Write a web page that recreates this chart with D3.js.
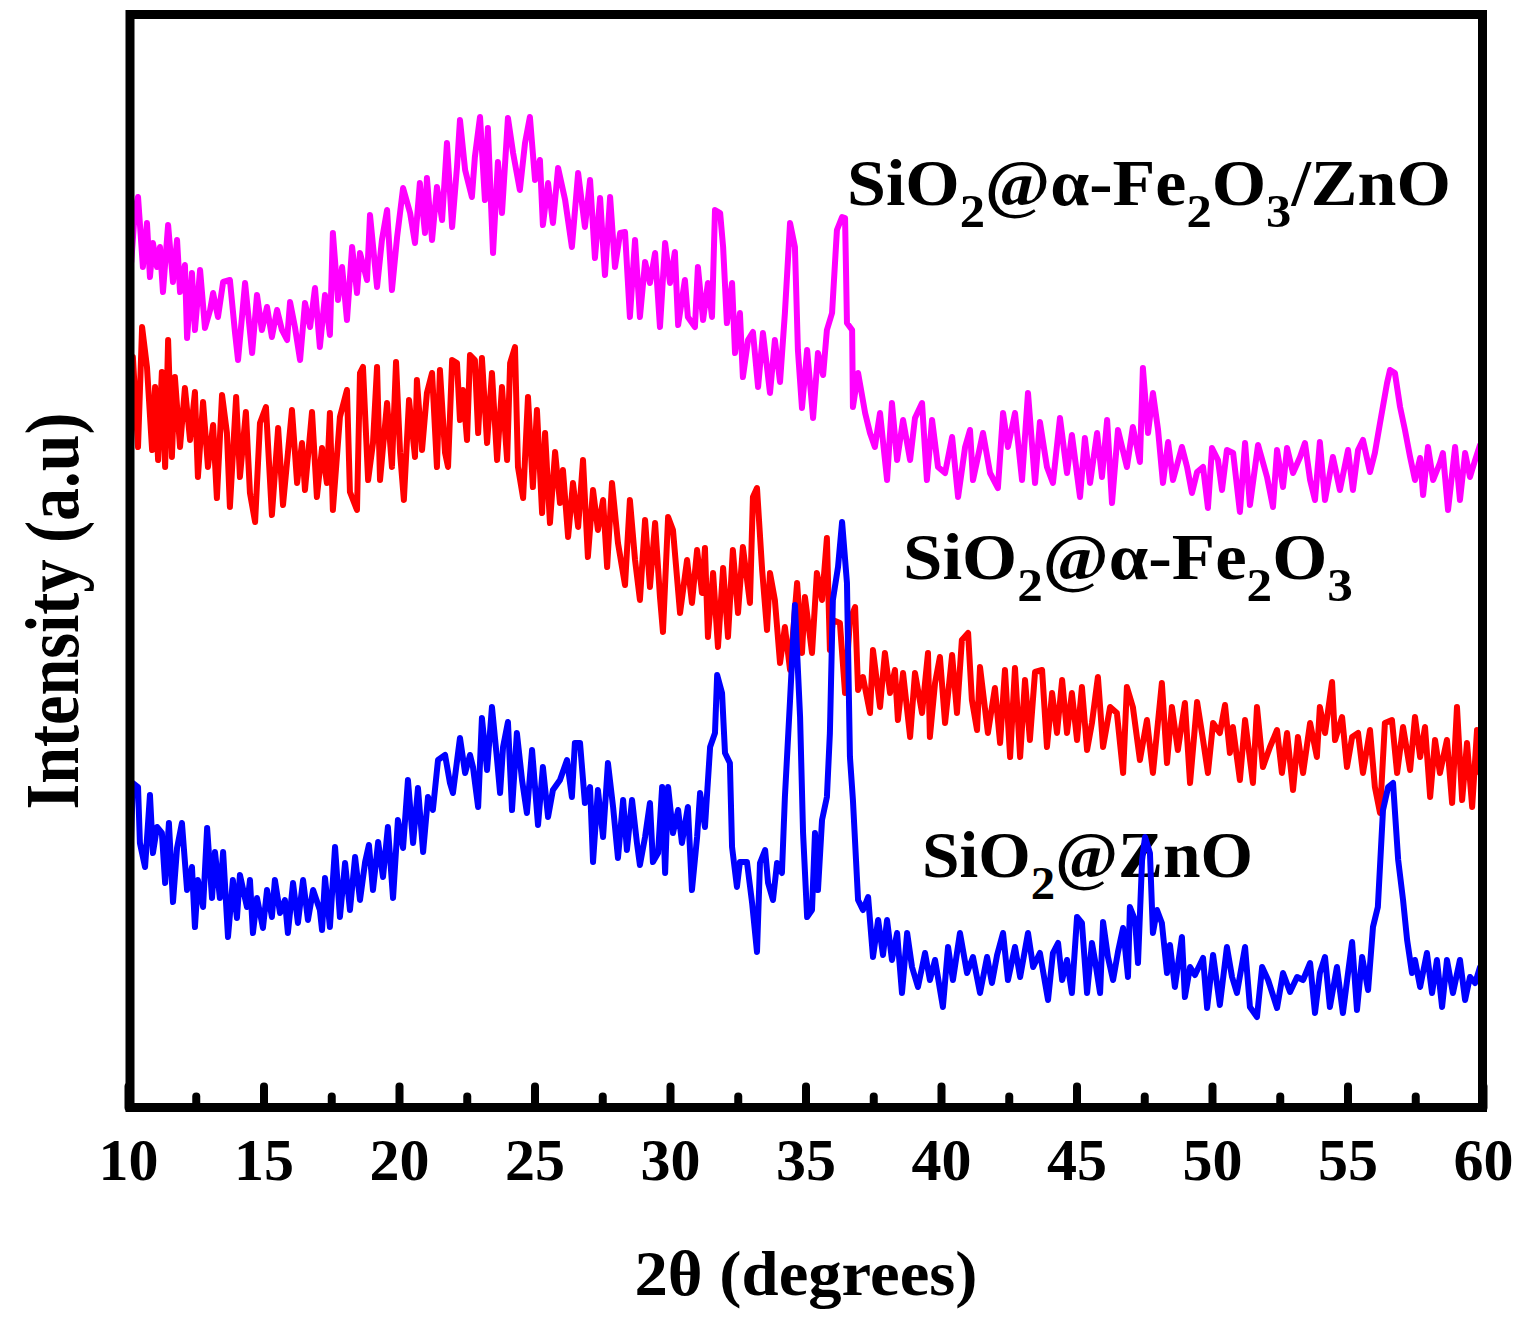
<!DOCTYPE html>
<html>
<head>
<meta charset="utf-8">
<script src="https://cdn.jsdelivr.net/npm/d3@7"></script>
<style>
  body { margin: 0; background: #fff; }
  svg { display: block; }
</style>
</head>
<body>
<svg id="chart" width="1524" height="1326"></svg>
<script>
// x: 2-theta (degrees), y: intensity (a.u., arbitrary offsets per pattern)
const majorTicks = [10, 15, 20, 25, 30, 35, 40, 45, 50, 55, 60];
const minorTicks = [12.5, 17.5, 22.5, 27.5, 32.5, 37.5, 42.5, 47.5, 52.5, 57.5];

const seriesNames = ["SiO2@α-Fe2O3/ZnO", "SiO2@α-Fe2O3", "SiO2@ZnO"];
const seriesColors = ["#ff00ff", "#ff0000", "#0000ff"];

const fe2o3ZnO = [[10.05,870],[10.12,845],[10.25,895],[10.37,910],[10.55,840],[10.70,884],[10.81,830],[10.92,864],[11.07,840],[11.18,860],[11.29,815],[11.48,882],[11.66,825],[11.81,867],[11.92,815],[12.10,842],[12.18,769],[12.36,834],[12.47,777],[12.66,837],[12.84,779],[13.03,797],[13.14,814],[13.32,790],[13.51,825],[13.76,827],[13.95,774],[14.06,747],[14.32,824],[14.58,754],[14.76,812],[14.94,777],[15.13,800],[15.31,770],[15.50,797],[15.68,777],[15.87,767],[15.98,805],[16.16,780],[16.35,747],[16.53,804],[16.72,780],[16.90,819],[17.08,760],[17.27,812],[17.45,772],[17.56,874],[17.75,807],[17.90,840],[18.08,787],[18.27,860],[18.45,814],[18.56,854],[18.82,827],[18.93,892],[19.19,820],[19.37,867],[19.56,897],[19.74,817],[19.93,870],[20.15,919],[20.41,894],[20.59,864],[20.77,924],[20.96,874],[21.03,929],[21.22,867],[21.40,920],[21.59,887],[21.77,964],[21.96,880],[22.14,940],[22.25,987],[22.44,937],[22.69,910],[22.80,950],[22.99,990],[23.17,907],[23.28,979],[23.47,854],[23.65,945],[23.80,894],[24.02,989],[24.21,954],[24.46,917],[24.65,964],[24.83,990],[25.02,927],[25.20,947],[25.31,882],[25.50,924],[25.68,884],[25.87,939],[26.13,907],[26.38,860],[26.61,934],[26.86,880],[27.05,927],[27.23,849],[27.42,909],[27.60,832],[27.79,910],[27.97,840],[28.16,874],[28.34,875],[28.52,790],[28.71,867],[28.89,790],[29.08,845],[29.26,824],[29.45,854],[29.63,780],[29.82,864],[30.00,824],[30.18,855],[30.30,782],[30.55,827],[30.66,790],[30.92,780],[31.03,840],[31.22,787],[31.40,824],[31.55,790],[31.66,897],[31.85,894],[31.96,860],[32.10,784],[32.29,824],[32.40,754],[32.58,794],[32.69,730],[32.88,767],[33.06,775],[33.25,720],[33.43,774],[33.69,714],[33.87,767],[34.06,725],[34.24,794],[34.43,884],[34.61,860],[34.72,757],[34.87,699],[35.06,757],[35.28,689],[35.46,754],[35.65,732],[35.79,777],[35.98,794],[36.16,877],[36.35,890],[36.46,889],[36.53,784],[36.72,777],[36.75,700],[36.94,734],[37.20,694],[37.38,674],[37.56,660],[37.75,694],[38.01,627],[38.19,704],[38.38,647],[38.60,687],[38.86,647],[39.04,689],[39.30,704],[39.48,627],[39.67,687],[39.89,640],[40.15,634],[40.41,670],[40.63,610],[40.89,660],[41.07,677],[41.18,627],[41.55,674],[41.81,634],[42.10,619],[42.29,694],[42.47,660],[42.73,694],[42.99,627],[43.21,714],[43.47,624],[43.65,685],[43.91,640],[44.13,624],[44.39,689],[44.65,634],[44.83,672],[45.13,610],[45.31,669],[45.50,624],[45.76,674],[45.94,630],[46.13,687],[46.31,604],[46.53,677],[46.86,640],[47.08,680],[47.34,645],[47.45,739],[47.64,674],[47.82,714],[48.01,677],[48.19,624],[48.38,665],[48.56,627],[48.89,660],[49.08,640],[49.26,614],[49.45,635],[49.67,640],[49.85,599],[50.00,659],[50.22,647],[50.37,617],[50.55,657],[50.78,654],[51.03,595],[51.22,664],[51.40,602],[51.70,662],[52.03,630],[52.25,600],[52.40,657],[52.62,620],[52.77,659],[52.99,634],[53.25,650],[53.43,664],[53.62,627],[53.80,607],[53.98,665],[54.17,607],[54.46,650],[54.72,617],[55.02,657],[55.20,617],[55.39,657],[55.57,667],[55.83,635],[56.01,654],[56.20,684],[56.46,724],[56.57,737],[56.75,734],[56.94,700],[57.12,677],[57.31,650],[57.49,627],[57.68,649],[57.79,612],[57.97,660],[58.16,627],[58.41,644],[58.52,654],[58.71,597],[58.97,660],[59.15,607],[59.34,654],[59.52,630],[59.71,647],[59.89,662]];

const fe2o3 = [[10.05,714],[10.10,664],[10.18,750],[10.37,660],[10.52,780],[10.70,740],[10.89,657],[11.00,720],[11.11,647],[11.25,735],[11.37,640],[11.48,767],[11.62,650],[11.73,730],[11.92,660],[12.10,719],[12.29,667],[12.47,715],[12.58,630],[12.77,705],[12.95,640],[13.14,682],[13.28,609],[13.47,712],[13.65,674],[13.76,600],[13.99,710],[14.13,630],[14.35,695],[14.50,614],[14.69,585],[14.87,684],[15.09,700],[15.31,592],[15.54,679],[15.72,602],[16.05,697],[16.24,624],[16.42,664],[16.53,617],[16.79,695],[16.97,610],[17.16,659],[17.34,624],[17.45,694],[17.56,597],[17.82,690],[18.08,717],[18.19,615],[18.45,597],[18.56,734],[18.67,740],[18.86,627],[19.04,664],[19.19,740],[19.30,627],[19.56,704],[19.74,640],[19.89,745],[20.04,654],[20.18,607],[20.37,707],[20.59,650],[20.66,727],[20.85,657],[21.03,714],[21.22,734],[21.40,640],[21.51,737],[21.70,654],[21.81,640],[21.96,747],[22.14,744],[22.25,687],[22.36,717],[22.51,667],[22.62,752],[22.80,747],[22.92,674],[23.06,749],[23.25,664],[23.43,734],[23.62,647],[23.80,720],[23.99,647],[24.10,744],[24.28,760],[24.39,640],[24.58,609],[24.76,710],[24.94,620],[25.09,697],[25.28,594],[25.39,674],[25.57,584],[25.76,655],[25.94,604],[26.05,637],[26.24,570],[26.42,624],[26.61,580],[26.79,647],[26.97,550],[27.16,617],[27.34,577],[27.53,607],[27.68,540],[27.86,624],[28.08,564],[28.34,522],[28.52,607],[28.71,547],[28.89,507],[29.08,587],[29.26,520],[29.45,584],[29.63,510],[29.74,475],[29.93,590],[30.11,577],[30.37,494],[30.63,547],[30.81,504],[31.00,557],[31.18,514],[31.29,559],[31.40,470],[31.59,534],[31.77,460],[31.96,539],[32.14,470],[32.32,557],[32.51,494],[32.69,560],[32.95,504],[33.06,610],[33.21,619],[33.40,537],[33.58,477],[33.69,534],[33.87,507],[34.06,444],[34.24,480],[34.43,437],[34.69,524],[34.87,454],[34.98,510],[35.24,454],[35.42,534],[35.61,507],[35.79,569],[35.90,457],[36.01,487],[36.27,484],[36.46,414],[36.64,487],[36.83,500],[36.94,417],[37.12,430],[37.38,394],[37.49,457],[37.75,400],[37.93,454],[38.12,414],[38.30,437],[38.41,387],[38.60,434],[38.86,370],[39.04,434],[39.30,394],[39.52,454],[39.59,370],[39.78,424],[39.96,450],[40.15,384],[40.41,452],[40.59,394],[40.77,467],[41.00,474],[41.14,407],[41.33,377],[41.44,440],[41.73,374],[41.99,419],[42.18,364],[42.36,437],[42.55,350],[42.73,439],[42.92,350],[43.10,427],[43.28,367],[43.47,435],[43.73,437],[43.91,360],[44.10,414],[44.28,374],[44.47,427],[44.65,374],[44.83,414],[45.02,367],[45.20,420],[45.39,357],[45.57,384],[45.79,430],[45.98,360],[46.24,400],[46.49,394],[46.72,334],[46.86,420],[47.08,400],[47.34,347],[47.60,387],[47.82,334],[48.15,424],[48.34,344],[48.52,400],[48.74,357],[49.00,404],[49.19,324],[49.45,405],[49.67,367],[49.85,334],[50.04,384],[50.29,374],[50.48,402],[50.66,354],[50.77,380],[51.03,327],[51.22,387],[51.51,324],[51.66,400],[51.88,340],[52.14,360],[52.40,377],[52.58,334],[52.77,374],[52.99,317],[53.17,370],[53.36,334],[53.62,384],[53.87,350],[53.98,400],[54.17,374],[54.43,425],[54.54,367],[54.80,390],[54.98,340],[55.17,370],[55.39,374],[55.57,334],[55.83,377],[56.01,320],[56.20,294],[56.38,384],[56.64,387],[56.83,334],[57.05,380],[57.31,337],[57.49,390],[57.68,350],[57.86,380],[58.05,310],[58.23,367],[58.41,334],[58.67,367],[58.86,304],[59.04,400],[59.23,307],[59.41,364],[59.60,300],[59.78,377],[59.89,334]];

const znO = [[10.05,314],[10.10,257],[10.18,324],[10.37,320],[10.44,264],[10.63,240],[10.81,312],[10.92,254],[11.07,280],[11.25,274],[11.37,224],[11.51,284],[11.66,205],[11.81,259],[11.99,284],[12.18,217],[12.36,240],[12.47,180],[12.58,227],[12.77,200],[12.92,279],[13.10,209],[13.21,255],[13.39,209],[13.51,255],[13.69,170],[13.87,227],[14.02,189],[14.13,232],[14.39,200],[14.50,227],[14.61,174],[14.76,209],[14.98,179],[15.13,217],[15.31,190],[15.42,227],[15.61,194],[15.79,207],[15.90,174],[16.09,224],[16.27,184],[16.46,227],[16.64,187],[16.83,217],[17.08,197],[17.16,177],[17.27,229],[17.45,180],[17.64,260],[17.82,190],[18.01,244],[18.19,197],[18.38,250],[18.56,207],[18.75,245],[18.89,262],[19.04,217],[19.23,265],[19.41,230],[19.59,280],[19.78,209],[19.96,287],[20.15,259],[20.33,327],[20.52,264],[20.70,319],[20.89,255],[21.07,310],[21.25,297],[21.44,347],[21.70,352],[21.88,324],[21.99,314],[22.25,369],[22.44,334],[22.62,352],[22.73,340],[22.92,300],[23.06,389],[23.25,337],[23.43,400],[23.62,347],[23.73,314],[23.84,360],[24.02,385],[24.17,297],[24.35,374],[24.54,327],[24.72,294],[24.91,357],[25.13,282],[25.31,340],[25.50,290],[25.68,317],[25.94,327],[26.20,347],[26.38,310],[26.49,364],[26.68,364],[26.86,304],[27.05,320],[27.16,245],[27.34,317],[27.53,270],[27.71,344],[27.90,300],[28.08,249],[28.27,307],[28.41,257],[28.60,307],[28.78,264],[28.89,242],[29.08,270],[29.26,304],[29.37,245],[29.56,254],[29.71,320],[29.82,234],[29.93,320],[30.11,274],[30.30,297],[30.44,264],[30.66,300],[30.81,217],[31.00,270],[31.11,314],[31.29,280],[31.48,360],[31.66,374],[31.74,432],[31.92,414],[32.03,354],[32.21,344],[32.29,260],[32.47,220],[32.58,245],[32.84,245],[33.03,204],[33.21,155],[33.32,244],[33.51,257],[33.62,224],[33.80,207],[33.95,244],[34.13,234],[34.24,310],[34.43,407],[34.61,502],[34.80,390],[34.91,274],[35.06,190],[35.24,197],[35.35,274],[35.46,217],[35.61,287],[35.79,310],[35.90,374],[36.01,507],[36.20,540],[36.35,585],[36.53,524],[36.64,350],[36.75,307],[36.94,207],[37.12,197],[37.31,210],[37.49,150],[37.68,187],[37.86,152],[38.01,187],[38.19,147],[38.38,174],[38.56,114],[38.75,174],[38.93,140],[39.15,120],[39.41,154],[39.59,127],[39.78,147],[40.07,100],[40.26,160],[40.44,127],[40.70,174],[40.96,134],[41.18,150],[41.44,114],[41.70,150],[41.88,124],[42.07,152],[42.29,174],[42.47,127],[42.73,160],[42.92,130],[43.21,174],[43.40,140],[43.65,154],[43.95,107],[44.13,154],[44.32,164],[44.47,127],[44.65,147],[44.83,114],[45.02,190],[45.20,184],[45.39,114],[45.57,164],[45.68,147],[45.87,114],[45.98,185],[46.16,150],[46.35,127],[46.53,155],[46.72,179],[46.90,130],[46.97,200],[47.16,187],[47.27,144],[47.42,247],[47.53,270],[47.71,254],[47.82,174],[47.97,197],[48.15,184],[48.34,134],[48.45,162],[48.63,120],[48.89,170],[49.00,110],[49.19,140],[49.37,132],[49.67,149],[49.82,99],[50.04,152],[50.29,102],[50.55,160],[50.74,130],[50.92,114],[51.22,160],[51.40,100],[51.66,90],[51.85,140],[52.07,127],[52.40,99],[52.62,134],[52.88,115],[53.14,130],[53.36,127],[53.62,144],[53.80,94],[53.98,134],[54.17,150],[54.35,100],[54.61,140],[54.83,94],[55.02,134],[55.17,165],[55.35,97],[55.54,150],[55.76,117],[55.94,180],[56.12,200],[56.31,297],[56.50,320],[56.68,324],[56.87,247],[57.05,207],[57.20,167],[57.38,134],[57.49,147],[57.68,120],[57.93,154],[58.12,114],[58.30,147],[58.49,100],[58.67,147],[58.89,114],[59.15,147],[59.34,107],[59.52,130],[59.71,124],[59.89,140]];

const seriesData = [fe2o3ZnO, fe2o3, znO];

const FONT = "'Times New Roman', 'Liberation Serif', serif";
const svg = d3.select("#chart");

const x = d3.scaleLinear().domain([10, 60]).range([128, 1483]);
const y = d3.scaleLinear().domain([0, 1095]).range([1107, 12]);

svg.append("rect")
  .attr("width", 1524)
  .attr("height", 1326)
  .attr("fill", "#fff");

// text that is stretched to the extent it has in the figure
function fitText(g, width) {
  const b = g.select("text").node().getBBox();
  const s = width / b.width;
  g.select("text").attr("transform", "scale(" + s + ",1)")
    .attr("x", -b.x);
}

// series labels, digits as subscripts
const labelBoxes = [
  { left: 847, base: 205, width: 604 },
  { left: 903, base: 579, width: 450 },
  { left: 922, base: 877, width: 331 }
];
seriesNames.forEach((name, i) => {
  const box = labelBoxes[i];
  const g = svg.append("g")
    .attr("transform", "translate(" + box.left + "," + box.base + ")");
  const t = g.append("text")
    .attr("font-family", FONT)
    .attr("font-weight", "bold")
    .attr("font-size", 65)
    .attr("fill", "#000");
  let sub = false;
  name.split(/(\d)/).filter((p) => p.length).forEach((part) => {
    const isSub = /^\d$/.test(part);
    const ts = t.append("tspan").text(part).attr("fill", "#000");
    if (isSub) {
      ts.attr("font-size", 47).attr("dy", sub ? 0 : 22);
      sub = true;
    } else {
      ts.attr("dy", sub ? -22 : 0);
      sub = false;
    }
  });
  fitText(g, box.width);
});

// patterns
const line = d3.line()
  .x((d) => x(d[0]))
  .y((d) => y(d[1]));

svg.append("g")
  .selectAll("path")
  .data(seriesData)
  .enter()
  .append("path")
  .attr("d", line)
  .attr("fill", "none")
  .attr("stroke", (d, i) => seriesColors[i])
  .attr("stroke-width", 6)
  .attr("stroke-linejoin", "round")
  .attr("stroke-linecap", "round");

// ticks on the bottom axis, pointing inward
const axisY = 1107.5;
const major = svg.append("g")
  .attr("transform", "translate(0," + axisY + ")")
  .call(d3.axisBottom(x).tickValues(majorTicks).tickSizeInner(-21)
    .tickSizeOuter(0).tickPadding(30).tickFormat(d3.format("d")));
const minor = svg.append("g")
  .attr("transform", "translate(0," + axisY + ")")
  .call(d3.axisBottom(x).tickValues(minorTicks).tickSizeInner(-11)
    .tickSizeOuter(0).tickFormat(""));
[major, minor].forEach((g) => {
  g.select(".domain").remove();
  g.selectAll(".tick line")
    .attr("stroke", "#000")
    .attr("stroke-width", 8)
    .attr("stroke-linecap", "round");
});
major.selectAll(".tick text")
  .attr("font-family", FONT)
  .attr("font-weight", "bold")
  .attr("font-size", 60)
  .attr("fill", "#000");

// frame
svg.append("rect")
  .attr("x", 130)
  .attr("y", 14.5)
  .attr("width", 1352.5)
  .attr("height", 1093)
  .attr("fill", "none")
  .attr("stroke", "#000")
  .attr("stroke-width", 9);

// axis titles
const xTitle = svg.append("g").attr("transform", "translate(806,1295)");
xTitle.append("text")
  .attr("font-family", FONT)
  .attr("font-weight", "bold")
  .attr("font-size", 64)
  .text("2θ (degrees)");
fitText(xTitle, 343);
xTitle.attr("transform", "translate(" + (806 - 343 / 2) + ",1295)");

const yTitle = svg.append("g").attr("transform", "translate(78," + (611 + 397 / 2) + ") rotate(-90)");
yTitle.append("text")
  .attr("font-family", FONT)
  .attr("font-weight", "bold")
  .attr("font-size", 76)
  .text("Intensity (a.u)");
fitText(yTitle, 397);
</script>
</body>
</html>
